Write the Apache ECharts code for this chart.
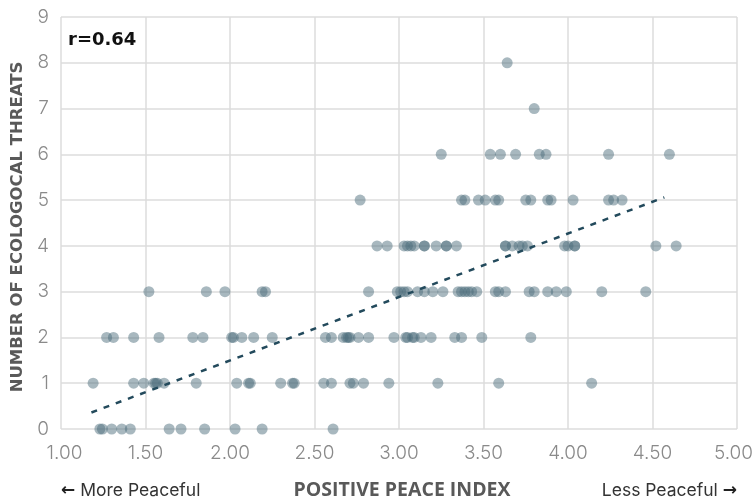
<!DOCTYPE html>
<html><head><meta charset="utf-8">
<script src="https://cdn.jsdelivr.net/npm/echarts@6/dist/echarts.min.js"></script>
<style>html,body{margin:0;padding:0;background:#fff}#c{width:755px;height:501px}</style>
</head><body><div id="c"></div>
<script>
// Positive Peace Index values, grouped by number of ecological threats
const threats0 = [1.23,1.245,1.30,1.36,1.41,1.64,1.71,1.85,2.03,2.19,2.61];
const threats1 = [1.19,1.43,1.49,1.55,1.56,1.57,1.61,1.80,2.04,2.11,2.12,2.30,2.37,2.38,2.555,2.60,2.71,2.73,2.79,2.94,3.23,3.59,4.14];
const threats2 = [1.27,1.31,1.43,1.58,1.78,1.84,2.01,2.02,2.07,2.14,2.25,2.565,2.60,2.67,2.69,2.70,2.71,2.76,2.82,2.97,3.04,3.05,3.08,3.09,3.13,3.19,3.33,3.37,3.49,3.78];
const threats3 = [1.52,1.86,1.97,2.19,2.21,2.82,2.99,3.01,3.03,3.05,3.11,3.15,3.20,3.26,3.35,3.37,3.39,3.41,3.43,3.46,3.57,3.59,3.63,3.77,3.80,3.88,3.93,3.99,4.20,4.46];
const threats4 = [2.87,2.93,3.03,3.05,3.07,3.09,3.15,3.15,3.22,3.28,3.28,3.34,3.63,3.63,3.67,3.71,3.73,3.76,3.98,4.00,4.04,4.04,4.52,4.64];
const threats5 = [2.77,3.37,3.39,3.47,3.51,3.57,3.59,3.75,3.78,3.88,3.90,4.03,4.24,4.27,4.32];
const threats6 = [3.25,3.54,3.60,3.69,3.83,3.87,4.24,4.60];
const threats7 = [3.80];
const threats8 = [3.64];
const trendX = [1.18, 4.57];
const trendY = [0.36, 5.06];
const xTicks = ['1.00','1.50','2.00','2.50','3.00','3.50','4.00','4.50','5.00'];
const rLabel = 'r=0.64';

const groups = [threats0,threats1,threats2,threats3,threats4,threats5,threats6,threats7,threats8];
const points = [];
groups.forEach((g, y) => g.forEach(x => points.push([x, y])));
const trend = trendX.map((x, i) => [x, trendY[i]]);

const chart = echarts.init(document.getElementById('c'), null, {renderer:'canvas'});
chart.setOption({
  animation:false,
  grid:{left:61,right:18,top:17,bottom:72,outerBoundsMode:'none',containLabel:false},
  xAxis:{type:'value',min:1,max:5,interval:0.5,
    axisLine:{show:false},axisTick:{show:false},
    splitLine:{show:true,lineStyle:{color:'#dcdcdc',width:1.5}},
    axisLabel:{margin:15,color:'#8a8a8a',fontSize:19,fontFamily:'Inter',fontWeight:300,
      formatter:(v)=>{
        const i = Math.round((v-1)/0.5);
        if (i === 0) return '{f|' + xTicks[i] + '}';
        if (i === xTicks.length-1) return '{l|' + xTicks[i] + '}';
        return xTicks[i];
      },
      rich:{
        f:{fontSize:19,fontFamily:'Inter',fontWeight:300,color:'#8a8a8a',padding:[0,0,0,7]},
        l:{fontSize:19,fontFamily:'Inter',fontWeight:300,color:'#8a8a8a',padding:[0,7,0,0]}
      }}},
  yAxis:{type:'value',min:0,max:9,interval:1,
    axisLine:{show:false},axisTick:{show:false},
    splitLine:{show:true,lineStyle:{color:'#dcdcdc',width:1.5}},
    axisLabel:{margin:12,color:'#8a8a8a',fontSize:19,fontFamily:'Inter',fontWeight:300}},
  series:[
    {type:'scatter',data:points,symbolSize:11,
      itemStyle:{color:'rgba(74,106,122,0.6)'}},
    {type:'line',data:trend,symbol:'none',
      lineStyle:{color:'#234a5c',width:2.5,type:[6,7]}}
  ],
  graphic:[
    {type:'text',left:68,top:31,style:{text:rLabel,font:'bold 18px "DejaVu Sans"',fill:'#111'}},
    {type:'text',x:18,y:227,rotation:Math.PI/2,style:{text:'NUMBER OF ECOLOGOCAL THREATS',font:'bold 16.5px "DejaVu Sans"',fill:'#595959',align:'center',verticalAlign:'middle'}},
    {type:'text',x:402,y:490,style:{text:'POSITIVE PEACE INDEX',font:'bold 19.5px "Open Sans"',fill:'#595959',align:'center',verticalAlign:'middle'}},
    {type:'text',x:61,y:491,style:{text:'{a|\u2190} More Peaceful',font:'17.5px Inter',fill:'#333',align:'left',verticalAlign:'middle',
      rich:{a:{font:'bold 17px "DejaVu Sans"',fill:'#222'}}}},
    {type:'text',x:737,y:491,style:{text:'Less Peaceful {a|\u2192}',font:'17.5px Inter',fill:'#333',align:'right',verticalAlign:'middle',
      rich:{a:{font:'bold 17px "DejaVu Sans"',fill:'#222'}}}}
  ]
});
</script></body></html>
